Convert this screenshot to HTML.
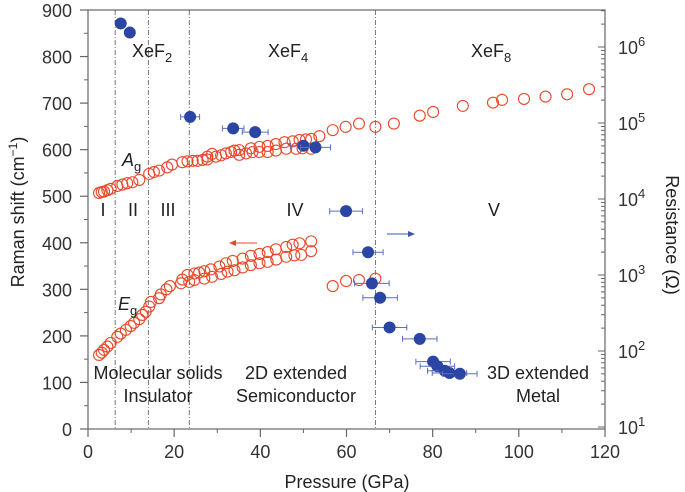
<!DOCTYPE html>
<html><head><meta charset="utf-8"><style>
body{margin:0;background:#fff}
svg{display:block;font-family:"Liberation Sans",sans-serif}
</style></head><body>
<svg id="chart" width="685" height="492" viewBox="0 0 685 492"></svg>
<script>
const xTicks=[0,20,40,60,80,100,120];
const yTicks=[0,100,200,300,400,500,600,700,800,900];
const rTicks=[1,2,3,4,5,6];
const phaseLines=[6.3,14.0,23.5,66.7];
const agP=[2.56,3.18,3.72,4.5,5.27,6.8,7.98,9.1,10.3,11.9,14.2,15.3,16.5,18.4,19.5,21.9,23.1,24.3,25.4,26.6,27.7,28.8,27.7,29.7,30.9,32.0,33.2,34.0,35.1,35.1,36.7,37.8,38.2,39.8,39.8,41.7,41.7,43.6,43.6,45.6,46.0,47.5,48.3,49.1,49.8,50.6,51.8,51.8,53.7,56.8,59.8,62.9,66.7,71.0,77.0,80.1,87.0,94.0,96.1,101.2,106.2,111.2,116.3];
const agV=[507,509,510,513,516,522,525,528,530,535,548,552,555,562,568,573,575,576,576,578,585,591,579,585,588,592,595,598,599,589,592,603,595,606,595,608,595,612,598,616,602,618,602,621,603,622,602,623,629,642,649,656,649,656,673,681,694,701,707,709,714,719,730];
const egP=[2.56,3.18,3.72,4.5,5.27,6.8,7.6,8.8,9.9,10.7,11.9,12.6,13.4,14.2,14.6,16.5,16.9,18.2,19.0,21.6,21.9,23.1,23.5,24.7,24.7,25.8,27.0,27.0,28.5,28.8,30.5,30.9,32.0,32.4,33.6,34.0,35.9,35.9,37.8,37.8,39.8,39.8,41.7,41.7,43.6,43.7,46.0,46.0,47.5,47.9,49.1,49.5,51.8,51.8,56.8,59.9,62.9,66.7];
const egV=[159,164,170,177,185,198,205,213,221,228,236,245,252,263,273,281,289,300,307,313,321,331,316,334,320,336,339,323,343,327,349,333,356,338,361,341,366,347,372,352,376,356,380,359,386,364,391,370,396,373,399,374,403,382,307,318,320,323];
const resP=[7.6,9.7,23.7,33.7,38.8,50.0,52.8,59.9,65.0,65.9,67.8,70.0,77.0,80.1,81.1,82.8,83.9,86.3];
const resLog=[6.31,6.19,5.08,4.93,4.88,4.70,4.68,3.84,3.30,2.89,2.70,2.31,2.16,1.86,1.80,1.74,1.71,1.70];
const resErr=[0,0,2.2,2.5,3.0,3.0,3.5,3.8,3.5,4.0,4.0,4.0,4.0,4.0,4.0,4.0,4.0,4.0];

const X0=88,X1=605,Y0=429,Y1=10;
const xs=p=>X0+(p/120)*(X1-X0);
const ys=v=>Y0-(v/900)*(Y0-Y1);
const R1=427,RDEC=76;
const rs=l=>R1-(l-1)*RDEC;
const NS="http://www.w3.org/2000/svg";
const svg=document.getElementById('chart');
function mk(tag,attrs,parent){const e=document.createElementNS(NS,tag);for(const k in attrs)e.setAttribute(k,attrs[k]);(parent||svg).appendChild(e);return e;}

const frame=mk('rect',{x:X0,y:Y1,width:X1-X0,height:Y0-Y1,fill:'none',stroke:'#666','stroke-width':1.2});



phaseLines.forEach(p=>{
 const l=mk('line',{x1:xs(p),x2:xs(p),y1:Y1,y2:Y0,stroke:'#555','stroke-width':0.8,'stroke-dasharray':'5,2,1,2'});
 
 
});

xTicks.forEach((t,i)=>{
 mk('line',{x1:xs(t),x2:xs(t),y1:Y0,y2:Y0+8,stroke:'#666','stroke-width':1.2});
 if(i<xTicks.length-1) mk('line',{x1:xs(t+10),x2:xs(t+10),y1:Y0,y2:Y0+4,stroke:'#666'});
 const tx=mk('text',{x:xs(t),y:Y0+29,'text-anchor':'middle','font-size':18,fill:'#333'});
 tx.textContent=t;
 
 
});
yTicks.forEach((t,i)=>{
 mk('line',{x1:X0,x2:X0-8,y1:ys(t),y2:ys(t),stroke:'#666','stroke-width':1.2});
 if(i<yTicks.length-1) mk('line',{x1:X0,x2:X0-4,y1:ys(t+50),y2:ys(t+50),stroke:'#666'});
 const tx=mk('text',{x:X0-16,y:ys(t)+7,'text-anchor':'end','font-size':18,fill:'#333'});
 tx.textContent=t;
 
 
});
rTicks.forEach(d=>{
 mk('line',{x1:X1,x2:X1-7,y1:rs(d),y2:rs(d),stroke:'#666'});
 if(d<6) for(let m=2;m<10;m++){const yy=rs(d+Math.log10(m));mk('line',{x1:X1,x2:X1-4,y1:yy,y2:yy,stroke:'#666'});}
 const tx=mk('text',{x:X1+13,y:rs(d)+7,'font-size':18,fill:'#333'});
 tx.innerHTML='10<tspan dy="-8" font-size="13">'+d+'</tspan>';
 
 
});
for(let m=2;m<10;m++){const yy=rs(6+Math.log10(m));if(yy>Y1)mk('line',{x1:X1,x2:X1-4,y1:yy,y2:yy,stroke:'#666'});}

const red='#e8482a';
agP.forEach((p,i)=>{
 const c=mk('circle',{cx:xs(p),cy:ys(agV[i]),r:5.5,fill:'none',stroke:red,'stroke-width':1.1});
 
 
});
egP.forEach((p,i)=>{
 const c=mk('circle',{cx:xs(p),cy:ys(egV[i]),r:5.5,fill:'none',stroke:red,'stroke-width':1.1});
 
 
});
const blue='#2a45a3';
resP.forEach((p,i)=>{
 const y=rs(resLog[i]);
 if(resErr[i]>0){
  const e=resErr[i];
  mk('line',{x1:xs(p-e),x2:xs(p+e),y1:y,y2:y,stroke:'#5a6fc0','stroke-width':1});
  mk('line',{x1:xs(p-e),x2:xs(p-e),y1:y-3,y2:y+3,stroke:'#5a6fc0'});
  mk('line',{x1:xs(p+e),x2:xs(p+e),y1:y-3,y2:y+3,stroke:'#5a6fc0'});
 }
 const c=mk('circle',{cx:xs(p),cy:y,r:6,fill:blue});
 
 
});

mk('line',{x1:257,x2:234,y1:243,y2:243,stroke:red,'stroke-width':1});
mk('path',{d:'M229,243 L236,240 L236,246Z',fill:red});
mk('line',{x1:387,x2:410,y1:234,y2:234,stroke:'#3a55b0','stroke-width':1});
mk('path',{d:'M415,234 L408,231 L408,237Z',fill:'#3a55b0'});

function label(txt,x,y,size,name,anchor,html){
 const t=mk('text',{x:x,y:y,'font-size':size,fill:'#222','text-anchor':anchor||'start'});
 if(html)t.innerHTML=txt;else t.textContent=txt;
 
 
 return t;
}
label('XeF<tspan dy="5" font-size="13">2</tspan>',132,57,18,'xef2-label','start',true);
label('XeF<tspan dy="5" font-size="13">4</tspan>',268,57,18,'xef4-label','start',true);
label('XeF<tspan dy="5" font-size="13">8</tspan>',471,57,18,'xef8-label','start',true);
label('I',103,216,18,'phase-i-label','middle');
label('II',133,216,18,'phase-ii-label','middle');
label('III',168,216,18,'phase-iii-label','middle');
label('IV',295,216,18,'phase-iv-label','middle');
label('V',494,216,18,'phase-v-label','middle');
label('<tspan font-style="italic">A</tspan><tspan dy="5" font-size="13">g</tspan>',122,166,18,'ag-label','start',true);
label('<tspan font-style="italic">E</tspan><tspan dy="5" font-size="13">g</tspan>',118,310,18,'eg-label','start',true);
label('Molecular solids',158,379,18,'molecular-solids-label','middle');
label('Insulator',158,402,18,'insulator-label','middle');
label('2D extended',296,379,18,'2d-extended-label','middle');
label('Semiconductor',296,402,18,'semiconductor-label','middle');
label('3D extended',538,379,18,'3d-extended-label','middle');
label('Metal',538,402,18,'metal-label','middle');
label('Pressure (GPa)',347,488,18,'x-axis-title','middle');
const yt=label('Raman shift (cm<tspan dy="-7" font-size="12">−1</tspan><tspan dy="7">)</tspan>',0,0,18,'y-axis-title','middle',true);
yt.setAttribute('transform','translate(24,212) rotate(-90)');
const rt=label('Resistance (Ω)',0,0,18,'right-axis-title','middle');
rt.setAttribute('transform','translate(666,235) rotate(90)');
</script>
</body></html>
